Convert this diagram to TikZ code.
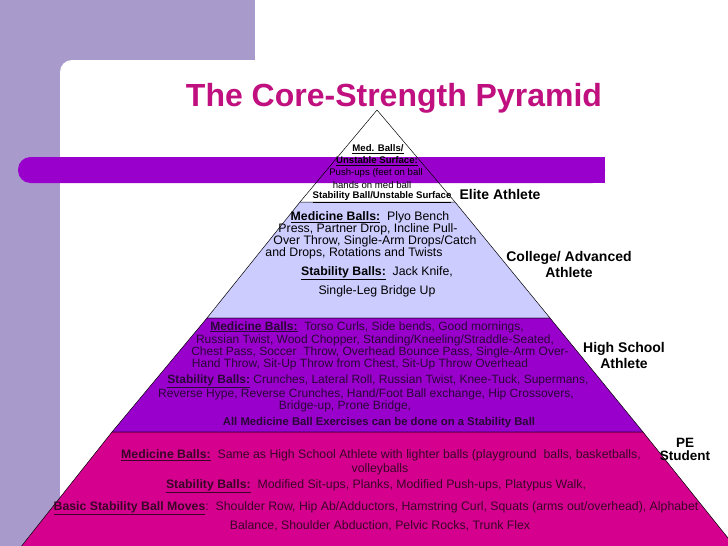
\documentclass[tikz,border=0pt]{standalone}
\usepackage{fontspec}
\setmainfont{Liberation Sans}
\definecolor{lav}{HTML}{A89BCB}
\definecolor{barp}{HTML}{9900CC}
\definecolor{tierB}{HTML}{CCCCFF}
\definecolor{tierC}{HTML}{9900CC}
\definecolor{tierD}{HTML}{D6008F}
\definecolor{ttl}{HTML}{C0107F}
\definecolor{txtC}{HTML}{2A0838}
\definecolor{txtD}{HTML}{3A0628}
\tikzset{
 tA/.style={font=\fontsize{9.6}{10}\selectfont,inner sep=0pt},
 tB/.style={font=\fontsize{12.3}{13}\selectfont,inner sep=0pt},
 tC/.style={font=\fontsize{12}{12}\selectfont,inner sep=0pt,text=txtC},
 tD/.style={font=\fontsize{12.3}{13}\selectfont,inner sep=0pt,text=txtD},
 lbl/.style={font=\bfseries\fontsize{14}{16}\selectfont,align=center,inner sep=0pt},
 tier/.style={draw=black,line width=0.5pt}
}
\newcommand{\ub}[1]{\textbf{\underline{#1}}}
\begin{document}
\begin{tikzpicture}[x=1pt,y=-1pt]
\useasboundingbox (0,0) rectangle (728,546);
\fill[white] (0,0) rectangle (728,546);
% background decoration
\fill[lav] (0,0) rectangle (255,60);
\fill[lav] (60,60) rectangle (72,72);
\fill[white] (72,72) circle[radius=12];
\fill[white] (72,72) rectangle (100,100);
\fill[white] (60,72) rectangle (72,100);
\fill[white] (72,60) rectangle (100,72);
\fill[lav] (0,60) rectangle (60,546);
% bar
\fill[barp,rounded corners=12.5pt] (18,157) rectangle (605,183);
\fill[barp] (40,157) rectangle (605,183);
\node[font=\bfseries\fontsize{32}{34}\selectfont,text=ttl,inner sep=0pt] (title) at (394,98) {The Core-Strength Pyramid};
% tiers
\coordinate (apex) at (377,110);
\draw[tier] (apex) -- (300,202) (apex) -- (455,202);
\fill[tierB,tier] (300,202) -- (455,202) -- (550,318) -- (207,318) -- cycle;
\fill[tierC,tier] (207,318) -- (550,318) -- (643,432) -- (112,432) -- cycle;
\fill[tierD,tier] (112,432) -- (643,432) -- (736,548) -- (20,548) -- cycle;
% tier A text
\node[tA] (a1) at (378,149) {\ub{Med. Balls/}};
\node[tA] (a2) at (377,161) {\ub{Unstable Surface:}};
\node[tA] (a3) at (376,173) {Push-ups (feet on ball};
\node[tA] (a4) at (372,185) {hands on med ball};
\node[tA] (a5) at (382,197) {\ub{Stability Ball/Unstable Surface}};
% tier B
\node[tB] (b1) at (370,217) {\ub{Medicine Balls:}\ \ Plyo Bench};
\node[tB] (b2) at (368,229) {Press, Partner Drop, Incline Pull-};
\node[tB] (b3) at (375,241) {Over Throw, Single-Arm Drops/Catch};
\node[tB] (b4) at (354,253) {and Drops, Rotations and Twists};
\node[tB] (b5) at (377,273) {\ub{Stability Balls:}\ \ Jack Knife,};
\node[tB] (b6) at (377,291) {Single-Leg Bridge Up};
% tier C
\node[tC] (c1) at (367,327) {\ub{Medicine Balls:}\ \ Torso Curls, Side bends, Good mornings,};
\node[tC] (c2) at (375,340) {Russian Twist, Wood Chopper, Standing/Kneeling/Straddle-Seated,};
\node[tC] (c3) at (380,352) {Chest Pass, Soccer\ \ Throw, Overhead Bounce Pass, Single-Arm Over-};
\node[tC] (c4) at (360,364) {Hand Throw, Sit-Up Throw from Chest, Sit-Up Throw Overhead};
\node[tC] (c5) at (378,381) {\ub{Stability Balls:} Crunches, Lateral Roll, Russian Twist, Knee-Tuck, Supermans,};
\node[tC] (c6) at (366,394) {Reverse Hype, Reverse Crunches, Hand/Foot Ball exchange, Hip Crossovers,};
\node[tC] (c7) at (345,406) {Bridge-up, Prone Bridge,};
\node[tC,font=\bfseries\fontsize{11.3}{12}\selectfont] (c8) at (379,423) {All Medicine Ball Exercises can be done on a Stability Ball};
% tier D
\node[tD] (d1) at (381,455) {\ub{Medicine Balls:}\ \ Same as High School Athlete with lighter balls (playground\ \ balls, basketballs,};
\node[tD] (d2) at (380,469) {volleyballs};
\node[tD] (d3) at (376,486) {\ub{Stability Balls:}\ \ Modified Sit-ups, Planks, Modified Push-ups, Platypus Walk,};
\node[tD] (d4) at (376,508) {\ub{Basic Stability Ball Moves}:\ \ Shoulder Row, Hip Ab/Adductors, Hamstring Curl, Squats (arms out/overhead), Alphabet};
\node[tD] (d5) at (380,526) {Balance, Shoulder Abduction, Pelvic Rocks, Trunk Flex};
% labels
\node[lbl] (l1) at (500,194) {Elite Athlete};
\node[lbl] (l2) at (569,264) {College/ Advanced\\Athlete};
\node[lbl] (l3) at (624,355) {High School\\Athlete};
\node[lbl,font=\bfseries\fontsize{13.5}{13}\selectfont] (l4) at (685,449) {PE\\Student};
\end{tikzpicture}
\end{document}
